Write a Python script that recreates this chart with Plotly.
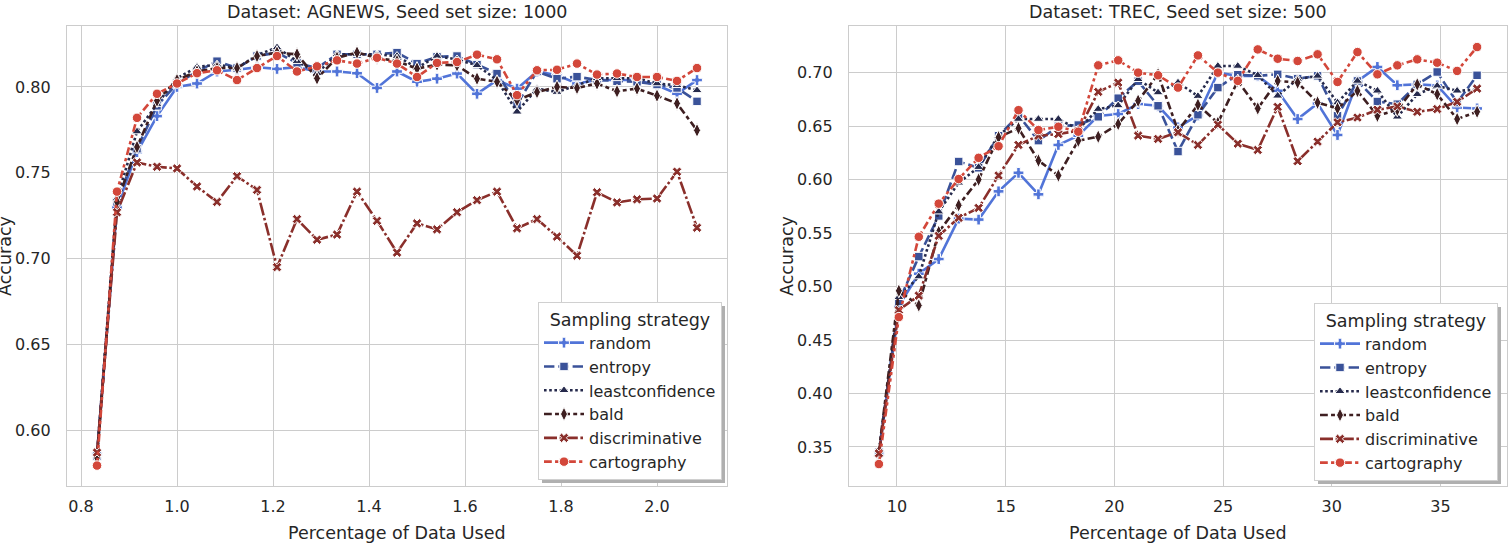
import plotly.graph_objects as go

# ---------------- data ----------------
strategies = ["random", "entropy", "leastconfidence", "bald", "discriminative", "cartography"]

# AGNEWS: seed 1000, +50 per step, 120000 train samples -> percentage
agnews_samples = [1000 + 50 * i for i in range(31)]
agnews_total = 120000
agnews_x = [s / agnews_total * 100 for s in agnews_samples]

agnews_random = [0.586, 0.730, 0.762, 0.783, 0.800, 0.802, 0.809, 0.810, 0.8115, 0.8105,
                 0.8115, 0.809, 0.809, 0.808, 0.7994, 0.809, 0.803, 0.8048, 0.8078, 0.796,
                 0.804, 0.799, 0.809, 0.8068, 0.802, 0.804, 0.804, 0.804, 0.801, 0.796, 0.804]
agnews_entropy = [0.585, 0.733, 0.764, 0.789, 0.802, 0.809, 0.815, 0.811, 0.818, 0.820,
                  0.814, 0.811, 0.819, 0.819, 0.819, 0.820, 0.8136, 0.8175, 0.818, 0.813,
                  0.8078, 0.790, 0.809, 0.8048, 0.806, 0.804, 0.8033, 0.803, 0.8014, 0.7994, 0.7916]
agnews_leastconf = [0.586, 0.735, 0.774, 0.790, 0.805, 0.8116, 0.813, 0.811, 0.8185, 0.823,
                    0.815, 0.808, 0.819, 0.819, 0.819, 0.818, 0.811, 0.818, 0.816, 0.8126,
                    0.804, 0.7855, 0.799, 0.797, 0.801, 0.805, 0.805, 0.805, 0.802, 0.801, 0.798]
agnews_bald = [0.584, 0.733, 0.765, 0.792, 0.804, 0.809, 0.811, 0.811, 0.818, 0.820,
               0.819, 0.805, 0.817, 0.820, 0.817, 0.815, 0.8107, 0.813, 0.8126, 0.8048,
               0.803, 0.7923, 0.797, 0.800, 0.7994, 0.802, 0.7975, 0.799, 0.7949, 0.7904, 0.7747]
agnews_discr = [0.587, 0.727, 0.756, 0.7535, 0.7525, 0.742, 0.733, 0.748, 0.740, 0.695,
                0.723, 0.711, 0.714, 0.739, 0.722, 0.7035, 0.7205, 0.717, 0.727, 0.734,
                0.739, 0.7176, 0.723, 0.7128, 0.7017, 0.7386, 0.7327, 0.7345, 0.735, 0.7506, 0.718]
agnews_carto = [0.5794, 0.739, 0.782, 0.796, 0.802, 0.808, 0.8097, 0.804, 0.811, 0.818,
                0.809, 0.812, 0.8155, 0.8136, 0.817, 0.8136, 0.8058, 0.814, 0.8145, 0.8188,
                0.8161, 0.7952, 0.8097, 0.810, 0.8136, 0.8072, 0.8078, 0.8058, 0.8058, 0.8035, 0.811]

# TREC: seed 500, +50 per step, 5452 train samples -> percentage
trec_samples = [500 + 50 * i for i in range(31)]
trec_total = 5452
trec_x = [s / trec_total * 100 for s in trec_samples]

trec_random = [0.344, 0.482, 0.512, 0.5257, 0.5635, 0.5626, 0.589, 0.6063, 0.5862, 0.6324,
               0.641, 0.6595, 0.6613, 0.6706, 0.669, 0.6488, 0.660, 0.700, 0.697, 0.697,
               0.683, 0.6566, 0.6712, 0.6417, 0.692, 0.7053, 0.6882, 0.689, 0.688, 0.6674, 0.6665]
trec_entropy = [0.345, 0.486, 0.528, 0.566, 0.6169, 0.611, 0.641, 0.660, 0.6364, 0.650,
                0.651, 0.6587, 0.6761, 0.692, 0.669, 0.6262, 0.6606, 0.686, 0.698, 0.697,
                0.6984, 0.6944, 0.697, 0.6597, 0.6922, 0.673, 0.6705, 0.689, 0.7006, 0.672, 0.6975]
trec_leastconf = [0.343, 0.490, 0.5093, 0.570, 0.597, 0.6116, 0.641, 0.6566, 0.6566, 0.6566,
                  0.647, 0.6659, 0.6693, 0.6938, 0.6814, 0.6907, 0.678, 0.7062, 0.7062, 0.6975,
                  0.6783, 0.694, 0.6969, 0.672, 0.6922, 0.683, 0.6587, 0.6798, 0.6876, 0.683, 0.684]
trec_bald = [0.346, 0.496, 0.4823, 0.551, 0.576, 0.600, 0.6395, 0.648, 0.6178, 0.6038,
             0.6364, 0.6401, 0.652, 0.6737, 0.6984, 0.6457, 0.6699, 0.653, 0.6922, 0.6665,
             0.6922, 0.6907, 0.672, 0.6665, 0.6829, 0.6597, 0.6653, 0.689, 0.6798, 0.6566, 0.6634]
trec_discr = [0.344, 0.478, 0.4915, 0.5474, 0.5642, 0.5735, 0.6038, 0.6324, 0.641, 0.6426,
              0.6457, 0.682, 0.6907, 0.6411, 0.638, 0.6442, 0.6324, 0.6514, 0.6336, 0.6277,
              0.668, 0.6172, 0.6355, 0.6535, 0.658, 0.6653, 0.6684, 0.6634, 0.6659, 0.6727, 0.6851]
trec_carto = [0.334, 0.4714, 0.5465, 0.5775, 0.6005, 0.6203, 0.6312, 0.6649, 0.6463, 0.6494,
              0.6448, 0.7068, 0.7115, 0.700, 0.6975, 0.686, 0.7161, 0.700, 0.6923, 0.7217,
              0.713, 0.7109, 0.7171, 0.6913, 0.7192, 0.6984, 0.7068, 0.7124, 0.7093, 0.7016, 0.7239]

agnews_series = [agnews_random, agnews_entropy, agnews_leastconf, agnews_bald, agnews_discr, agnews_carto]
trec_series = [trec_random, trec_entropy, trec_leastconf, trec_bald, trec_discr, trec_carto]

titles = ["Dataset: AGNEWS, Seed set size: 1000", "Dataset: TREC, Seed set size: 500"]
x_title = "Percentage of Data Used"
y_title = "Accuracy"
legend_title = "Sampling strategy"

# ---------------- styles ----------------
colors = ["#5174d8", "#3a5299", "#262a4c", "#3e1f21", "#8a2f2b", "#d3473a"]
symbols = ["cross", "square", "triangle-up", "diamond-tall", "x", "circle"]
msizes = [9, 8.5, 9, 10, 8.5, 9.5]
LW = 2.6
dashes = [
    "solid",
    "%gpx,%gpx" % (4 * LW, 1.5 * LW),
    "%gpx,%gpx" % (1 * LW, 1 * LW),
    "%gpx,%gpx,%gpx,%gpx" % (3 * LW, 1.25 * LW, 1.5 * LW, 1.25 * LW),
    "%gpx,%gpx,%gpx,%gpx" % (5 * LW, 1 * LW, 1 * LW, 1 * LW),
    "%gpx,%gpx,%gpx,%gpx,%gpx,%gpx" % (3 * LW, 1.25 * LW, 1.25 * LW, 1.25 * LW, 1.25 * LW, 1.25 * LW),
]

TXT = "#262626"
GRID = "#cccccc"
FONT = "DejaVu Sans"
LABEL_SIZE = 17.5
TICK_SIZE = 16

fig = go.Figure()

for k, name in enumerate(strategies):
    fig.add_trace(go.Scatter(
        x=agnews_x, y=agnews_series[k], name=name, mode="lines+markers",
        line=dict(color=colors[k], width=LW, dash=dashes[k]),
        marker=dict(symbol=symbols[k], size=msizes[k], color=colors[k],
                    line=dict(color="white", width=1)),
        xaxis="x", yaxis="y", legend="legend",
    ))
for k, name in enumerate(strategies):
    fig.add_trace(go.Scatter(
        x=trec_x, y=trec_series[k], name=name, mode="lines+markers",
        line=dict(color=colors[k], width=LW, dash=dashes[k]),
        marker=dict(symbol=symbols[k], size=msizes[k], color=colors[k],
                    line=dict(color="white", width=1)),
        xaxis="x2", yaxis="y2", legend="legend2",
    ))

W, H = 1510, 544
ML, MR, MT, MB = 67, 3, 26, 58
PW = W - ML - MR
PH = H - MT - MB


def px_x(p):
    return (p - ML) / PW


def px_y(p):
    return (H - MB - p) / PH


axis_common = dict(
    showgrid=True, gridcolor=GRID, gridwidth=1,
    showline=True, linecolor=GRID, linewidth=1.2, mirror=True,
    zeroline=False, ticks="outside", ticklen=0,
    tickfont=dict(family=FONT, size=TICK_SIZE, color=TXT),
    automargin=False,
)

legend_common = dict(
    bgcolor="white", bordercolor="#d0d0d0", borderwidth=1,
    font=dict(family=FONT, size=16, color=TXT),
    title=dict(text=legend_title, side="top center", font=dict(family=FONT, size=LABEL_SIZE, color=TXT)),
    xanchor="right", yanchor="bottom", tracegroupgap=0, itemwidth=40,
)

fig.update_layout(
    width=W, height=H,
    margin=dict(l=ML, r=MR, t=MT, b=MB, autoexpand=False),
    paper_bgcolor="white", plot_bgcolor="white",
    font=dict(family=FONT, color=TXT),
    xaxis=dict(axis_common, domain=[0, px_x(727)], range=[0.7708, 2.1458],
               tick0=0, dtick=0.2, tickformat=".1f", ticklabelstandoff=6, anchor="y"),
    yaxis=dict(axis_common, domain=[0, 1], range=[0.5675, 0.8355],
               tick0=0, dtick=0.05, tickformat=".2f", ticklabelstandoff=12, anchor="x"),
    xaxis2=dict(axis_common, domain=[px_x(849), 1], range=[7.795, 38.06],
                tick0=0, dtick=5, tickformat="d", ticklabelstandoff=6, anchor="y2"),
    yaxis2=dict(axis_common, domain=[0, 1], range=[0.3135, 0.7436],
                tick0=0, dtick=0.05, tickformat=".2f", ticklabelstandoff=12, anchor="x2"),
    legend=dict(legend_common, x=px_x(722), y=px_y(480)),
    legend2=dict(legend_common, x=px_x(1498), y=px_y(481)),
    showlegend=True,
)

ann = []
for cx, t in [((67 + 727) / 2, titles[0]), ((849 + 1507) / 2, titles[1])]:
    ann.append(dict(text=t, x=px_x(cx), y=px_y(12), xref="paper", yref="paper",
                    showarrow=False, xanchor="center", yanchor="middle",
                    font=dict(family=FONT, size=LABEL_SIZE, color=TXT)))
for cx in [(67 + 727) / 2, (849 + 1507) / 2]:
    ann.append(dict(text=x_title, x=px_x(cx), y=px_y(533), xref="paper", yref="paper",
                    showarrow=False, xanchor="center", yanchor="middle",
                    font=dict(family=FONT, size=LABEL_SIZE, color=TXT)))
for cx in [5, 787]:
    ann.append(dict(text=y_title, x=px_x(cx), y=px_y(256), xref="paper", yref="paper",
                    showarrow=False, xanchor="center", yanchor="middle", textangle=-90,
                    font=dict(family=FONT, size=LABEL_SIZE, color=TXT)))
fig.update_layout(annotations=ann)

# legend drop shadows (offset rectangles drawn under the legend boxes)
shadows = []
for (rx, by) in [(722, 480), (1498, 481)]:
    shadows.append(dict(type="rect", xref="paper", yref="paper", layer="above",
                        x0=px_x(rx - 183 + 3), x1=px_x(rx + 3),
                        y0=px_y(by + 3), y1=px_y(by - 177 + 3),
                        fillcolor="#b0b0b0", line=dict(width=0)))
fig.update_layout(shapes=shadows)

fig.write_html("out.html", config={"displayModeBar": False},
               post_script="document.body.style.margin='0px';")
